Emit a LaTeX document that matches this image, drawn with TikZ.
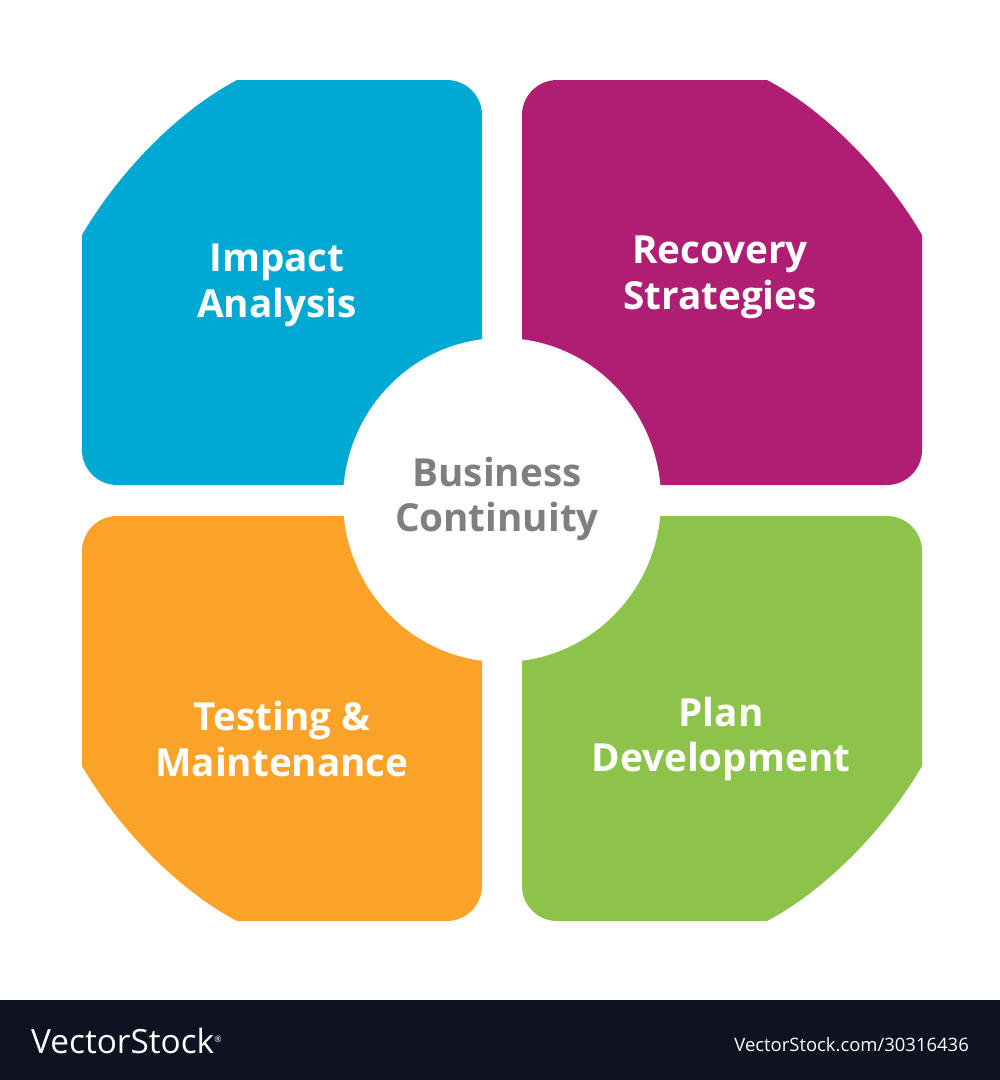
\documentclass[tikz,border=0pt]{standalone}
\usepackage{fontspec}
\setmainfont{Open Sans}
\definecolor{cblue}{HTML}{00A8D4}
\definecolor{cmag}{HTML}{B01E74}
\definecolor{corange}{HTML}{FBA328}
\definecolor{cgreen}{HTML}{8DC34A}
\definecolor{ctext}{HTML}{7F7F7F}
\definecolor{cbar}{HTML}{0F1220}
\newcommand\petalpath{(82,235) .. controls (120,170) and (180,110) .. (237,80) [rounded corners=20] -- (482,80) -- (482,300) [sharp corners] -- (482,485) -- (300,485) [rounded corners=20] -- (82,485) -- (82,300) [sharp corners] -- cycle}
\tikzset{lbl/.style={text=white,font=\bfseries\fontsize{22}{26}\selectfont,align=center}}
\begin{document}
\begin{tikzpicture}[x=0.02cm,y=-0.02cm]
\useasboundingbox (0,0) rectangle (1000,1080);
\fill[white] (0,0) rectangle (1000,1080);
\fill[cblue] \petalpath;
\begin{scope}[shift={(502,0)},xscale=-1,shift={(-502,0)}]
\fill[cmag] \petalpath;
\end{scope}
\begin{scope}[shift={(0,500.5)},yscale=-1,shift={(0,-500.5)}]
\fill[corange] \petalpath;
\end{scope}
\begin{scope}[shift={(502,500.5)},scale=-1,shift={(-502,-500.5)}]
\fill[cgreen] \petalpath;
\end{scope}
\fill[white] (502,500) ellipse [x radius=159, y radius=162];
\node[lbl] (ia) at (277,285) {Impact\\Analysis};
\node[lbl] (rs) at (720,277) {Recovery\\Strategies};
\node[lbl] (tm) at (282,739) {Testing \&\\Maintenance};
\node[lbl] (pd) at (721,739) {Plan\\Development};
\node[align=center,text=ctext,font=\bfseries\fontsize{22}{26}\selectfont] (bc) at (497,499) {Business\\Continuity};
\fill[cbar] (0,1000) rectangle (1000,1080);
\node[anchor=west,text=white,font=\fontsize{19}{22}\selectfont] (vs) at (25,1041) {VectorStock\textsuperscript{\tiny®}};
\node[anchor=east,text=white,font=\fontsize{10.5}{12}\selectfont] (url) at (975,1045) {VectorStock.com/30316436};
\end{tikzpicture}
\end{document}
